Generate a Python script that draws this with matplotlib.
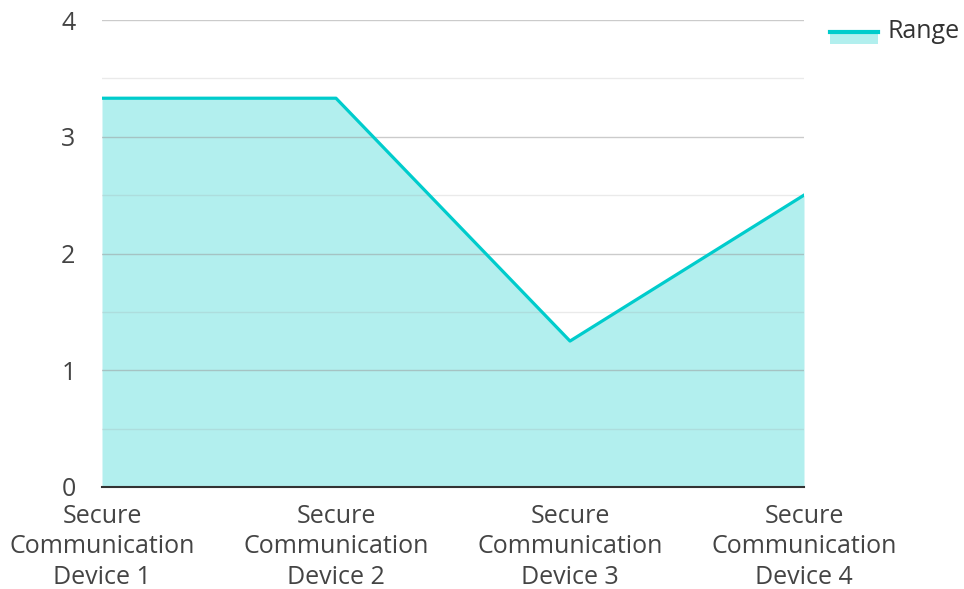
import numpy as np
import matplotlib.pyplot as plt
from matplotlib.lines import Line2D
from matplotlib.patches import Rectangle

plt.rcParams['font.family'] = ['Open Sans', 'DejaVu Sans']

devices = ['Secure\nCommunication\nDevice 1', 'Secure\nCommunication\nDevice 2',
           'Secure\nCommunication\nDevice 3', 'Secure\nCommunication\nDevice 4']
range_vals = [3.33, 3.33, 1.25, 2.5]

line_color = '#00cccc'
fill_color = '#b2efee'
W, H = 964, 589

fig = plt.figure(figsize=(W / 100, H / 100), dpi=100)
ax = fig.add_axes([102 / W, 1 - 487 / H, 702 / W, 467 / H])

x = np.arange(len(devices))
ax.fill_between(x, range_vals, 0, color=fill_color, lw=0, zorder=1)
ax.plot(x, range_vals, color=line_color, lw=2.3, zorder=3)

ax.set_xlim(0, len(devices) - 1)
ax.set_ylim(0, 4)
ax.set_yticks([0, 1, 2, 3, 4])
ax.set_yticks([0.5, 1.5, 2.5, 3.5], minor=True)
ax.grid(True, which='major', axis='y', color='#999999', alpha=0.5, lw=1, zorder=2)
ax.grid(True, which='minor', axis='y', color='#999999', alpha=0.2, lw=1, zorder=2)
ax.set_axisbelow(False)
ax.set_xticks(x)
ax.set_xticklabels(devices, linespacing=1.3)

for s in ['top', 'right', 'left']:
    ax.spines[s].set_visible(False)
ax.spines['bottom'].set_color('#333333')
ax.spines['bottom'].set_linewidth(1.5)
ax.spines['bottom'].set_zorder(4)
ax.tick_params(axis='both', which='both', length=0, labelsize=18, colors='#444444')
ax.tick_params(axis='y', pad=19)
ax.tick_params(axis='x', pad=12)

# legend drawn in figure pixels
fig.add_artist(Rectangle((830 / W, 1 - 44 / H), 48 / W, 12 / H, transform=fig.transFigure,
                         facecolor=fill_color, edgecolor='none'))
fig.add_artist(Line2D([830 / W, 878 / W], [1 - 32 / H, 1 - 32 / H], transform=fig.transFigure,
                      color=line_color, lw=3))
fig.text(888 / W, 1 - 32 / H, 'Range', fontsize=18, color='#333333', va='center', ha='left')

fig.savefig('out.png', dpi=100)
